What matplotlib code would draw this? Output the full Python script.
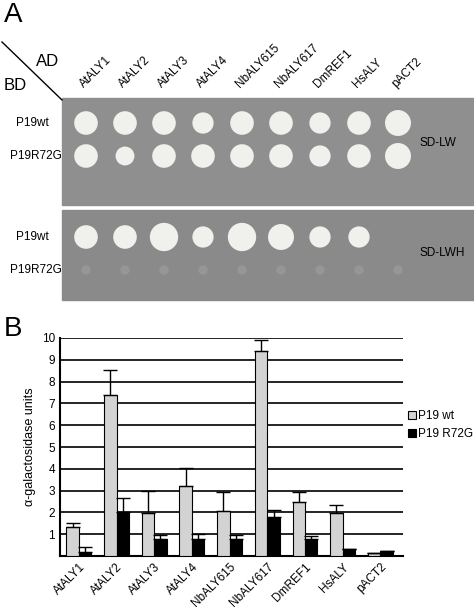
import matplotlib.pyplot as plt
import numpy as np
from matplotlib.patches import Rectangle

plt.rcParams['font.family'] = ['Liberation Sans', 'DejaVu Sans']

ad_labels = ["AtALY1","AtALY2","AtALY3","AtALY4","NbALY615","NbALY617","DmREF1","HsALY","pACT2"]
bd_labels = ["P19wt","P19R72G"]
lw_wt_size = [1.0,1.0,1.0,0.9,1.0,1.0,0.9,1.0,1.1]
lw_mut_size = [1.0,0.8,1.0,1.0,1.0,1.0,0.9,1.0,1.1]
lwh_wt_size = [1.0,1.0,1.2,0.9,1.2,1.1,0.9,0.9,0.0]
lwh_mut_size = [0.4,0.4,0.4,0.4,0.4,0.4,0.4,0.4,0.4]

wt_vals = [1.35,7.4,1.95,3.2,2.05,9.4,2.5,1.95,0.15]
wt_err = [0.15,1.15,1.05,0.85,0.9,0.5,0.45,0.4,0.0]
mut_vals = [0.2,2.0,0.8,0.8,0.8,1.8,0.8,0.3,0.22]
mut_err = [0.2,0.65,0.15,0.2,0.15,0.3,0.1,0.0,0.03]

W, H = 474, 607
fig = plt.figure(figsize=(W/100, H/100), dpi=100)
fig.patch.set_facecolor("white")

axA = fig.add_axes([0, 0, 1, 1])
axA.set_xlim(0, W); axA.set_ylim(H, 0); axA.axis("off")
axA.text(4, 2, "A", fontsize=20, va="top", ha="left")
axA.plot([2, 62], [42, 100], color="black", lw=1)
axA.text(36, 62, "AD", fontsize=12, va="center")
axA.text(4, 86, "BD", fontsize=12, va="center")
xs = np.linspace(86, 398, 9)
for x, lab in zip(xs, ad_labels):
    axA.text(x, 90, lab, rotation=45, ha="left", va="bottom", fontsize=8.5,
             rotation_mode="anchor")
axA.add_patch(Rectangle((62, 98), 412, 107, color="#8f8f8f", zorder=0))
axA.add_patch(Rectangle((62, 210), 412, 90, color="#8a8a8a", zorder=0))
def colonies(y, sizes, alpha):
    axA.scatter(xs, [y]*9, s=[(s*17)**2 for s in sizes], color="#f0f0ec",
                alpha=alpha, edgecolors="none", zorder=2)
colonies(123, lw_wt_size, 1)
colonies(156, lw_mut_size, 1)
colonies(237, lwh_wt_size, 1)
colonies(270, lwh_mut_size, 0.12)
axA.text(16, 123, "P19wt", fontsize=8.5, va="center")
axA.text(10, 156, "P19R72G", fontsize=8.5, va="center")
axA.text(16, 237, "P19wt", fontsize=8.5, va="center")
axA.text(10, 270, "P19R72G", fontsize=8.5, va="center")
axA.text(420, 143, "SD-LW", fontsize=8.5, va="center")
axA.text(420, 253, "SD-LWH", fontsize=8.5, va="center")
axA.text(4, 316, "B", fontsize=20, va="top", ha="left")

axB = fig.add_axes([60/W, 1-556/H, 343/W, 218/H])
x = np.arange(len(ad_labels))
bw = 0.33
axB.bar(x-bw/2, wt_vals, bw, color="#d3d3d3", edgecolor="black", lw=0.8,
        yerr=[[0]*9, wt_err], error_kw=dict(lw=1, capsize=5, capthick=1), label="P19 wt", zorder=3)
axB.bar(x+bw/2, mut_vals, bw, color="black", edgecolor="black", lw=0.8,
        yerr=[[0]*9, mut_err], error_kw=dict(lw=1, capsize=5, capthick=1), label="P19 R72G", zorder=3)
axB.set_ylim(0, 10)
axB.set_xlim(-0.5, 8.6)
axB.set_yticks(range(1, 11))
axB.yaxis.grid(True, color="black", lw=1.2)
axB.set_axisbelow(True)
for s in ["top", "right"]:
    axB.spines[s].set_visible(False)
axB.spines["bottom"].set_linewidth(1.5)
axB.spines["left"].set_linewidth(1.5)
axB.tick_params(axis="y", length=0, labelsize=8.5)
axB.tick_params(axis="x", length=0, labelsize=8.5)
axB.set_xticks(x)
axB.set_xticklabels(ad_labels, rotation=45, ha="right", rotation_mode="anchor")
axB.set_ylabel("α-galactosidase units", fontsize=9)
axB.legend(loc="center left", bbox_to_anchor=(1.0, 0.6), frameon=False, fontsize=8.5,
           handlelength=0.7, handletextpad=0.2, borderaxespad=0)
fig.savefig("out.png", dpi=100)
